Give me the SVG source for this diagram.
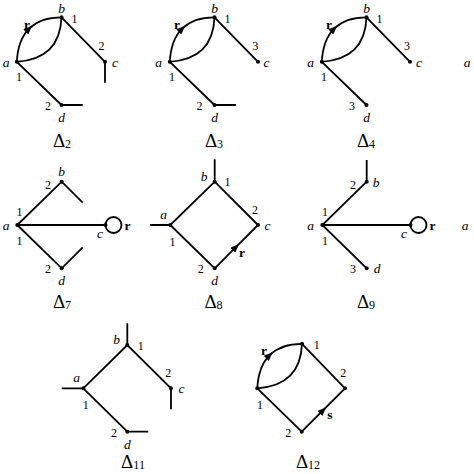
<svg xmlns="http://www.w3.org/2000/svg" width="474" height="474" viewBox="0 0 474 474">
<style>
.e{fill:none;stroke:#000;stroke-width:1.8;stroke-linecap:butt}
.v{fill:#000}
text{font-family:"Liberation Serif","DejaVu Serif",serif;text-anchor:middle;dominant-baseline:central;fill:#000}
.l{font-style:italic;font-size:13.5px}
.n{font-size:12px}
.b{font-weight:bold;font-size:13.5px}
.D{font-size:19px}
.s{font-size:12px}
</style>
<defs>
<marker id="arr" markerUnits="userSpaceOnUse" markerWidth="9" markerHeight="7" viewBox="0 0 9 7" refX="5" refY="3.5" orient="auto"><path d="M0,0 L9,3.5 L0,7 z" fill="#000"/></marker>
<g id="lens">
<path class="e" d="M16.8,61.8 Q18,39.5 29.4,28.4 Q40.5,17.3 61.5,17.3" marker-mid="url(#arr)"/>
<path class="e" d="M16.8,61.8 Q60,59 61.5,17.3"/>
</g>
</defs>

<!-- Delta 2 -->
<g id="D2">
<g id="D2-edges">
<use href="#lens"/>
<path class="e" d="M61.5,17.3 L105,61.8 L105,82.7 M16.8,61.8 L61.5,105 L82.7,105"/>
</g>
<g id="D2-a"><circle class="v" cx="16.8" cy="61.8" r="2"/><text class="l" x="6" y="62">a</text></g>
<g id="D2-b"><circle class="v" cx="61.5" cy="17.3" r="2"/><text class="l" x="61.5" y="8">b</text></g>
<g id="D2-c"><circle class="v" cx="105" cy="61.8" r="2"/><text class="l" x="115" y="62">c</text></g>
<g id="D2-d"><circle class="v" cx="61.5" cy="105" r="2"/><text class="l" x="61.5" y="117">d</text></g>
<text class="n" x="74.5" y="18.5">1</text><text class="n" x="101.5" y="46">2</text>
<text class="n" x="19" y="77">1</text><text class="n" x="48" y="106">2</text>
<text class="b" x="27" y="24">r</text>
<text class="D" x="62" y="140">Δ<tspan class="s" dy="4">2</tspan></text>
</g>

<!-- Delta 3 -->
<g id="D3">
<g id="D3-edges">
<use href="#lens" transform="translate(153,0)"/>
<path class="e" d="M214.5,17.3 L258,61.8 M169.8,61.8 L214.5,105 L236,105"/>
</g>
<g id="D3-a"><circle class="v" cx="169.8" cy="61.8" r="2"/><text class="l" x="158.5" y="62">a</text></g>
<g id="D3-b"><circle class="v" cx="214.5" cy="17.3" r="2"/><text class="l" x="214.5" y="8">b</text></g>
<g id="D3-c"><circle class="v" cx="258" cy="61.8" r="2"/><text class="l" x="266.5" y="62">c</text></g>
<g id="D3-d"><circle class="v" cx="214.5" cy="105" r="2"/><text class="l" x="214.5" y="117">d</text></g>
<text class="n" x="227.5" y="18.5">1</text><text class="n" x="255.3" y="46">3</text>
<text class="n" x="172" y="77">1</text><text class="n" x="199.5" y="106">2</text>
<text class="b" x="177" y="24">r</text>
<text class="D" x="214" y="140">Δ<tspan class="s" dy="4">3</tspan></text>
</g>

<!-- Delta 4 -->
<g id="D4">
<g id="D4-edges">
<use href="#lens" transform="translate(305,0)"/>
<path class="e" d="M366.5,17.3 L410,61.8 M321.8,61.8 L366.5,105"/>
</g>
<g id="D4-a"><circle class="v" cx="321.8" cy="61.8" r="2"/><text class="l" x="310.5" y="62">a</text></g>
<g id="D4-b"><circle class="v" cx="366.5" cy="17.3" r="2"/><text class="l" x="366.5" y="8">b</text></g>
<g id="D4-c"><circle class="v" cx="410" cy="61.8" r="2"/><text class="l" x="419" y="62">c</text></g>
<g id="D4-d"><circle class="v" cx="366.5" cy="105" r="2"/><text class="l" x="366.5" y="117">d</text></g>
<text class="n" x="379.5" y="18.5">1</text><text class="n" x="407" y="46">3</text>
<text class="n" x="324" y="77">1</text><text class="n" x="352" y="106">3</text>
<text class="b" x="329" y="24">r</text>
<text class="D" x="366" y="140">Δ<tspan class="s" dy="4">4</tspan></text>
<text class="l" x="467" y="62">a</text>
</g>

<!-- Delta 7 -->
<g id="D7">
<g id="D7-edges">
<path class="e" d="M17.3,225 L61.7,181.7 L82.7,202.7 M17.3,225 L61.7,268.3 L82.7,247.3 M17.3,225 L105.5,225"/>
<circle class="e" cx="113.5" cy="225" r="8"/>
</g>
<g id="D7-a"><circle class="v" cx="17.3" cy="225" r="2"/><text class="l" x="6" y="225">a</text></g>
<g id="D7-b"><circle class="v" cx="61.7" cy="181.7" r="2"/><text class="l" x="61.7" y="171">b</text></g>
<g id="D7-c"><circle class="v" cx="105.5" cy="225" r="2"/><text class="l" x="100" y="233.5">c</text></g>
<g id="D7-d"><circle class="v" cx="61.7" cy="268.3" r="2"/><text class="l" x="61.7" y="280.5">d</text></g>
<text class="n" x="19.5" y="212">1</text><text class="n" x="19.5" y="241">1</text>
<text class="n" x="48" y="185">2</text><text class="n" x="48" y="268.5">2</text>
<text class="b" x="127.5" y="225">r</text>
<text class="D" x="62" y="301">Δ<tspan class="s" dy="4">7</tspan></text>
</g>

<!-- Delta 8 -->
<g id="D8">
<g id="D8-edges">
<path class="e" d="M150,225 L170.3,225 L214.7,181.7 L258,225 M214.7,159.3 L214.7,181.7 M170.3,225 L214.7,268.3"/>
<path class="e" d="M214.7,268.3 L236.35,246.65 L258,225" marker-mid="url(#arr)"/>
</g>
<g id="D8-a"><circle class="v" cx="170.3" cy="225" r="2"/><text class="l" x="163.5" y="214">a</text></g>
<g id="D8-b"><circle class="v" cx="214.7" cy="181.7" r="2"/><text class="l" x="204" y="176.5">b</text></g>
<g id="D8-c"><circle class="v" cx="258" cy="225" r="2"/><text class="l" x="267.5" y="225">c</text></g>
<g id="D8-d"><circle class="v" cx="214.7" cy="268.3" r="2"/><text class="l" x="214.5" y="280.5">d</text></g>
<text class="n" x="227.5" y="182">1</text><text class="n" x="255" y="210">2</text>
<text class="n" x="172.5" y="241.5">1</text><text class="n" x="200.7" y="269">2</text>
<text class="b" x="242" y="252">r</text>
<text class="D" x="213.5" y="301">Δ<tspan class="s" dy="4">8</tspan></text>
</g>

<!-- Delta 9 -->
<g id="D9">
<g id="D9-edges">
<path class="e" d="M366.7,160 L366.7,181.7 L322.3,225 L366.7,268.3 M322.3,225 L410.5,225"/>
<circle class="e" cx="418.5" cy="225" r="8"/>
</g>
<g id="D9-a"><circle class="v" cx="322.3" cy="225" r="2"/><text class="l" x="310.5" y="225">a</text></g>
<g id="D9-b"><circle class="v" cx="366.7" cy="181.7" r="2"/><text class="l" x="376" y="182">b</text></g>
<g id="D9-c"><circle class="v" cx="410.5" cy="225" r="2"/><text class="l" x="404" y="233.5">c</text></g>
<g id="D9-d"><circle class="v" cx="366.7" cy="268.3" r="2"/><text class="l" x="377" y="268">d</text></g>
<text class="n" x="325" y="212">1</text><text class="n" x="325" y="241">1</text>
<text class="n" x="353" y="185">2</text><text class="n" x="353" y="268.5">3</text>
<text class="b" x="432.5" y="225">r</text>
<text class="D" x="366" y="301">Δ<tspan class="s" dy="4">9</tspan></text>
<text class="l" x="465" y="225">a</text>
</g>

<!-- Delta 11 -->
<g id="D11">
<g id="D11-edges">
<path class="e" d="M61.7,388.3 L83.3,388.3 L127.3,345 L171,388.3 L171,409.3 M127.3,323.3 L127.3,345 M83.3,388.3 L127.3,431.7 L148.3,431.7"/>
</g>
<g id="D11-a"><circle class="v" cx="83.3" cy="388.3" r="2"/><text class="l" x="76.7" y="377.5">a</text></g>
<g id="D11-b"><circle class="v" cx="127.3" cy="345" r="2"/><text class="l" x="116.7" y="339.5">b</text></g>
<g id="D11-c"><circle class="v" cx="171" cy="388.3" r="2"/><text class="l" x="181.5" y="388">c</text></g>
<g id="D11-d"><circle class="v" cx="127.3" cy="431.7" r="2"/><text class="l" x="127.3" y="444.5">d</text></g>
<text class="n" x="140.7" y="346">1</text><text class="n" x="168.3" y="373.3">2</text>
<text class="n" x="85.7" y="405">1</text><text class="n" x="114" y="432.7">2</text>
<text class="D" x="133" y="461">Δ<tspan class="s" dy="4">11</tspan></text>
</g>

<!-- Delta 12 -->
<g id="D12">
<g id="D12-edges">
<use href="#lens" transform="translate(240.5,326.5)"/>
<path class="e" d="M302,343.8 L345,388.3 M257.3,388.3 L301.7,431.7"/>
<path class="e" d="M301.7,431.7 L323.35,410 L345,388.3" marker-mid="url(#arr)"/>
</g>
<g id="D12-left"><circle class="v" cx="257.3" cy="388.3" r="2"/></g>
<g id="D12-top"><circle class="v" cx="302" cy="343.8" r="2"/></g>
<g id="D12-right"><circle class="v" cx="345" cy="388.3" r="2"/></g>
<g id="D12-bottom"><circle class="v" cx="301.7" cy="431.7" r="2"/></g>
<text class="n" x="316.7" y="345">1</text><text class="n" x="343.3" y="373.3">2</text>
<text class="n" x="260" y="405">1</text><text class="n" x="288.3" y="432.7">2</text>
<text class="b" x="264" y="350.5">r</text>
<text class="b" x="330" y="414">s</text>
<text class="D" x="308" y="461">Δ<tspan class="s" dy="4">12</tspan></text>
</g>
</svg>
